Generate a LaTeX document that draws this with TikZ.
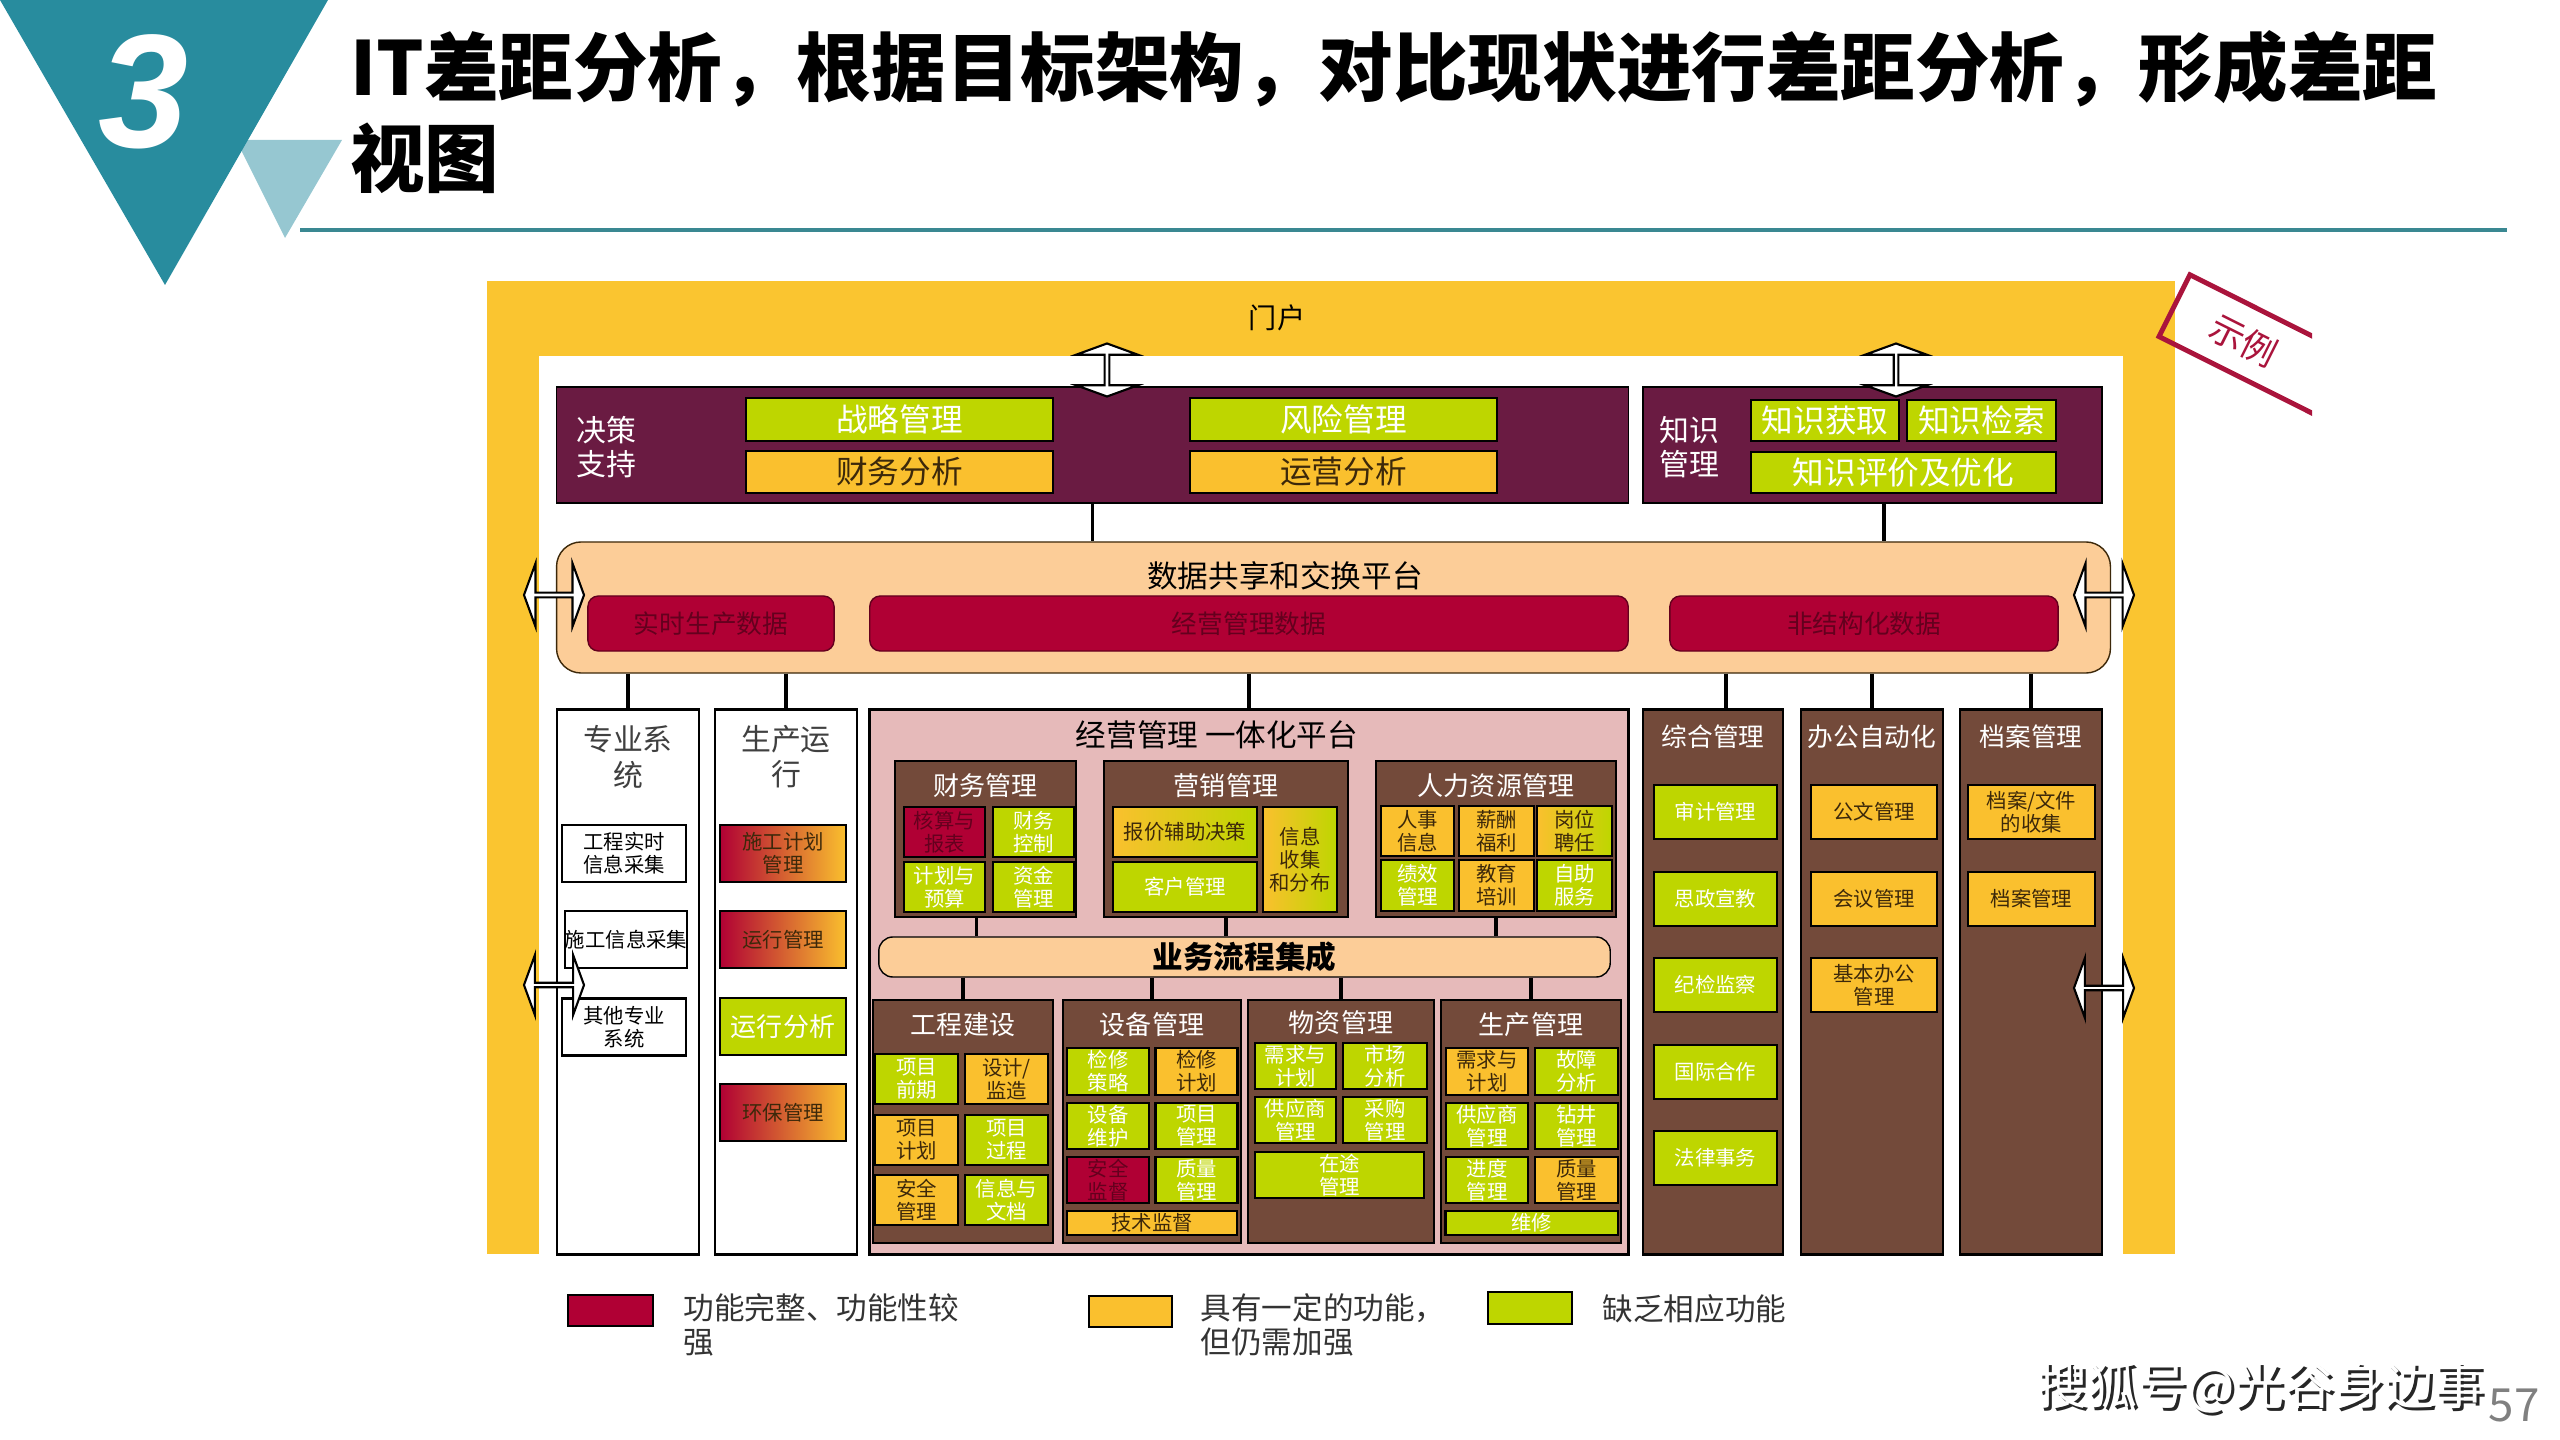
\documentclass[tikz,border=0pt]{standalone}
\usepackage{fontspec}
\setmainfont{Noto Sans CJK SC}
\newfontfamily\digitfont{Liberation Sans}
\usetikzlibrary{positioning,shapes.arrows}

\definecolor{gapTeal}{RGB}{40,140,158}
\definecolor{gapTealLight}{RGB}{150,199,209}
\definecolor{gapTealLine}{RGB}{58,136,146}
\definecolor{gapGold}{RGB}{250,197,48}
\definecolor{gapPurple}{RGB}{106,27,66}
\definecolor{gapGreen}{RGB}{190,214,0}
\definecolor{gapYellow}{RGB}{250,192,46}
\definecolor{gapRed}{RGB}{176,0,52}
\definecolor{gapRedInk}{RGB}{100,0,30}
\definecolor{gapPeach}{RGB}{252,205,152}
\definecolor{gapPink}{RGB}{230,186,186}
\definecolor{gapBrown}{RGB}{115,74,58}
\definecolor{gapInk}{RGB}{60,40,10}
\definecolor{gapStamp}{RGB}{170,20,60}

\tikzset{
  cell/.style={draw=black, line width=0.6pt, inner sep=0pt, outer sep=0pt,
               align=center, font=\fontsize{5.8}{6.6}\selectfont},
  fullbox/.style={cell, fill=gapRed, text=gapRedInk},
  partbox/.style={cell, fill=gapYellow, text=gapInk},
  nobox/.style={cell, fill=gapGreen, text=white},
  mixbox/.style={cell, left color=gapYellow, right color=gapGreen, text=gapInk},
  heatbox/.style={cell, left color=gapRed, right color=gapYellow, text=gapInk},
  plainbox/.style={cell, fill=white, text=black},
  colbox/.style={draw=black, line width=0.8pt, inner sep=0pt,
                 minimum width=1.42cm, minimum height=5.44cm},
  grp/.style={draw=black, line width=0.8pt, fill=gapBrown, inner sep=0pt},
  grptitle/.style={text=white, font=\fontsize{7.4}{8}\selectfont},
  datablk/.style={draw=gapRedInk, fill=gapRed, text=gapRedInk, rounded corners=3pt,
                  minimum height=0.55cm, inner sep=0pt, font=\fontsize{7.3}{8}\selectfont},
  legtext/.style={inner sep=0pt, align=left, text=black!80, font=\fontsize{8.7}{9.6}\selectfont},
  link/.style={line width=1pt},
  dblarrow/.style={double arrow, draw=black, fill=white, line width=0.6pt, inner sep=0pt,
                   double arrow head extend=0.13cm, double arrow tip angle=140}
}

\begin{document}
\begin{tikzpicture}[x=0.01cm, y=-0.01cm]
  \useasboundingbox (0,0) rectangle (2560,1440);

  % header
  \fill[gapTealLight] (236,140) -- (342,140) -- (285,238) -- cycle;
  \fill[gapTeal] (0,0) -- (328,0) -- (165,285) -- cycle;
  \node[text=white, font=\digitfont\fontsize{46}{46}\selectfont\bfseries\itshape] (num) at (143,92) {3};
  \draw[gapTealLine, line width=1.2pt] (300,230) -- (2507,230);
  \node[anchor=west, font=\fontsize{21.2}{25}\selectfont\bfseries] (title1) at (338,69)
        {IT差距分析，根据目标架构，对比现状进行差距分析，形成差距};
  \node[anchor=west, font=\fontsize{21.2}{25}\selectfont\bfseries] (title2) at (338,158) {视图};

  % portal frame
  \fill[gapGold] (487,281) rectangle (2175,1254);
  \fill[white] (539,356) rectangle (2123,1254);
  \node[font=\fontsize{8}{9}\selectfont] (portal) at (1277,318) {门户};

  % decision support and knowledge
  \node[draw=black, fill=gapPurple, minimum width=10.71cm, minimum height=1.16cm, inner sep=0pt] (dec) at (1092.5,445) {};
  \node[anchor=west, inner sep=0pt, text=white, align=left, font=\fontsize{8.5}{9.8}\selectfont] (declabel) at (576,447) {决策\\支持};
  \node[nobox, font=\fontsize{9}{10}\selectfont, minimum width=3.07cm, minimum height=0.43cm] (zlgl) at (899.5,419.5) {战略管理};
  \node[partbox, font=\fontsize{9}{10}\selectfont, minimum width=3.07cm, minimum height=0.42cm] (cwfx) at (899.5,472) {财务分析};
  \node[nobox, font=\fontsize{9}{10}\selectfont, minimum width=3.07cm, minimum height=0.43cm] (fxgl) at (1343.5,419.5) {风险管理};
  \node[partbox, font=\fontsize{9}{10}\selectfont, minimum width=3.07cm, minimum height=0.42cm] (yyfx) at (1343.5,472) {运营分析};

  \node[draw=black, fill=gapPurple, minimum width=4.59cm, minimum height=1.16cm, inner sep=0pt] (kno) at (1872.5,445) {};
  \node[anchor=west, inner sep=0pt, text=white, align=left, font=\fontsize{8.5}{9.8}\selectfont] (knolabel) at (1659,447) {知识\\管理};
  \node[nobox, font=\fontsize{9}{10}\selectfont, minimum width=1.48cm, minimum height=0.41cm] (zshq) at (1825,420.5) {知识获取};
  \node[nobox, font=\fontsize{9}{10}\selectfont, minimum width=1.49cm, minimum height=0.41cm] (zsjs) at (1981.5,420.5) {知识检索};
  \node[nobox, font=\fontsize{9}{10}\selectfont, minimum width=3.05cm, minimum height=0.41cm] (zspj) at (1903.5,472.5) {知识评价及优化};

  \node[dblarrow, rotate=90, minimum height=0.53cm, minimum width=0.62cm] (decarrow) at (1107,370) {};
  \node[dblarrow, rotate=90, minimum height=0.53cm, minimum width=0.62cm] (knoarrow) at (1896,370) {};

  % data sharing platform
  \node[draw=gapInk, fill=gapPeach, rounded corners=7pt, minimum width=15.53cm, minimum height=1.31cm, inner sep=0pt] (plat) at (1333.5,607.5) {};
  \node[font=\fontsize{8.7}{9}\selectfont] (plattitle) at (1285,576) {数据共享和交换平台};
  \node[datablk, minimum width=2.46cm] (rtdata) at (711,623.5) {实时生产数据};
  \node[datablk, minimum width=7.58cm] (opdata) at (1249,623.5) {经营管理数据};
  \node[datablk, minimum width=3.88cm] (unstr) at (1864,623.5) {非结构化数据};
  \node[dblarrow, minimum height=0.6cm, minimum width=0.63cm] (platL) at (554,595) {};
  \node[dblarrow, minimum height=0.6cm, minimum width=0.63cm] (platR) at (2104,595) {};

  % columns
  \node[colbox, fill=white] (zy) at (628,982) {};
  \node[align=center, text=black!75, font=\fontsize{8.5}{10}\selectfont] (zytitle) at (628,757) {专业系\\统};
  \node[plainbox, minimum width=1.24cm, minimum height=0.57cm] (gcss) at (624,853.5) {工程实时\\信息采集};
  \node[plainbox, minimum width=1.22cm, minimum height=0.57cm] (sgxx) at (626,939.5) {施工信息采集};
  \node[plainbox, minimum width=1.24cm, minimum height=0.57cm] (qtzy) at (624,1027) {其他专业\\系统};

  \node[colbox, fill=white] (sc) at (786,982) {};
  \node[align=center, text=black!75, font=\fontsize{8.5}{10}\selectfont] (sctitle) at (786,757) {生产运\\行};
  \node[heatbox, minimum width=1.26cm, minimum height=0.57cm] (sgjh) at (783,853.5) {施工计划\\管理};
  \node[heatbox, minimum width=1.26cm, minimum height=0.57cm] (yxgl) at (783,939.5) {运行管理};
  \node[nobox, font=\fontsize{7.4}{8}\selectfont, minimum width=1.26cm, minimum height=0.57cm] (yxfx) at (783,1026.5) {运行分析};
  \node[heatbox, minimum width=1.26cm, minimum height=0.57cm] (hbgl) at (783,1112.5) {环保管理};

  % integrated operation platform
  \node[draw=black, line width=0.8pt, fill=gapPink, minimum width=7.58cm, minimum height=5.44cm, inner sep=0pt] (jy) at (1249,982) {};
  \node[font=\fontsize{8.7}{9}\selectfont] (jytitle) at (1217,735) {经营管理 一体化平台};

  \node[grp, minimum width=1.81cm, minimum height=1.56cm] (cw) at (985.5,839) {};
  \node[grptitle] (cwtitle) at (985.5,786) {财务管理};
  \node[fullbox, minimum width=0.81cm, minimum height=0.5cm] (hsbb) at (944.5,832) {核算与\\报表};
  \node[nobox, minimum width=0.81cm, minimum height=0.5cm] (cwkz) at (1033.5,832) {财务\\控制};
  \node[nobox, minimum width=0.81cm, minimum height=0.5cm] (jhys) at (944.5,887) {计划与\\预算};
  \node[nobox, minimum width=0.81cm, minimum height=0.5cm] (zjgl) at (1033.5,887) {资金\\管理};

  \node[grp, minimum width=2.44cm, minimum height=1.56cm] (yx) at (1226,839) {};
  \node[grptitle] (yxtitle) at (1226,786) {营销管理};
  \node[mixbox, minimum width=1.44cm, minimum height=0.5cm] (bjfz) at (1185,832) {报价辅助决策};
  \node[nobox, minimum width=1.44cm, minimum height=0.5cm] (khgl) at (1185,887) {客户管理};
  \node[mixbox, minimum width=0.74cm, minimum height=1.05cm] (xxsj) at (1300,859.5) {信息\\收集\\和分布};

  \node[grp, minimum width=2.4cm, minimum height=1.56cm] (rl) at (1496,839) {};
  \node[grptitle] (rltitle) at (1496,786) {人力资源管理};
  \node[partbox, minimum width=0.73cm, minimum height=0.5cm] (rsxx) at (1417.5,831) {人事\\信息};
  \node[partbox, minimum width=0.75cm, minimum height=0.5cm] (xcfl) at (1496.5,831) {薪酬\\福利};
  \node[mixbox, minimum width=0.75cm, minimum height=0.5cm] (gwpr) at (1574.5,831) {岗位\\聘任};
  \node[nobox, minimum width=0.73cm, minimum height=0.51cm] (jxgl) at (1417.5,885.5) {绩效\\管理};
  \node[partbox, minimum width=0.75cm, minimum height=0.51cm] (jypx) at (1496.5,885.5) {教育\\培训};
  \node[nobox, minimum width=0.75cm, minimum height=0.51cm] (zzfw) at (1574.5,885.5) {自助\\服务};

  \node[draw=black, fill=gapPeach, rounded corners=4pt, minimum width=7.31cm, minimum height=0.4cm, inner sep=0pt,
        font=\fontsize{8.7}{9}\selectfont\bfseries] (lc) at (1244.5,957) {业务流程集成};

  \node[grp, minimum width=1.8cm, minimum height=2.43cm] (gc) at (963,1121.5) {};
  \node[grptitle] (gctitle) at (963,1025) {工程建设};
  \node[nobox, minimum width=0.83cm, minimum height=0.5cm] (xmqq) at (916.5,1079) {项目\\前期};
  \node[partbox, minimum width=0.83cm, minimum height=0.5cm] (sjjz) at (1006.5,1079) {设计/\\监造};
  \node[partbox, minimum width=0.83cm, minimum height=0.5cm] (xmjh) at (916.5,1140) {项目\\计划};
  \node[nobox, minimum width=0.83cm, minimum height=0.5cm] (xmgc) at (1006.5,1140) {项目\\过程};
  \node[partbox, minimum width=0.83cm, minimum height=0.5cm] (aqgl) at (916.5,1200) {安全\\管理};
  \node[nobox, minimum width=0.83cm, minimum height=0.5cm] (xxwd) at (1006.5,1200) {信息与\\文档};

  \node[grp, minimum width=1.78cm, minimum height=2.43cm] (sb) at (1152,1121.5) {};
  \node[grptitle] (sbtitle) at (1152,1025) {设备管理};
  \node[nobox, minimum width=0.82cm, minimum height=0.47cm] (jxcl) at (1108,1071.5) {检修\\策略};
  \node[partbox, minimum width=0.82cm, minimum height=0.47cm] (jxjh) at (1196.5,1071.5) {检修\\计划};
  \node[nobox, minimum width=0.82cm, minimum height=0.46cm] (sbwh) at (1108,1126) {设备\\维护};
  \node[nobox, minimum width=0.82cm, minimum height=0.46cm] (sbxm) at (1196.5,1126) {项目\\管理};
  \node[fullbox, minimum width=0.82cm, minimum height=0.46cm] (aqjd) at (1108,1180) {安全\\监督};
  \node[nobox, minimum width=0.82cm, minimum height=0.46cm] (sbzl) at (1196.5,1180) {质量\\管理};
  \node[partbox, minimum width=1.7cm, minimum height=0.24cm] (jsjd) at (1152,1223) {技术监督};

  \node[grp, minimum width=1.86cm, minimum height=2.43cm] (wz) at (1341,1121.5) {};
  \node[grptitle] (wztitle) at (1341,1023) {物资管理};
  \node[nobox, minimum width=0.81cm, minimum height=0.46cm] (wzxq) at (1295.5,1066) {需求与\\计划};
  \node[nobox, minimum width=0.84cm, minimum height=0.46cm] (scfx) at (1385,1066) {市场\\分析};
  \node[nobox, minimum width=0.81cm, minimum height=0.46cm] (wzgy) at (1295.5,1120) {供应商\\管理};
  \node[nobox, minimum width=0.84cm, minimum height=0.46cm] (cggl) at (1385,1120) {采购\\管理};
  \node[nobox, minimum width=1.69cm, minimum height=0.46cm] (ztgl) at (1339.5,1175) {在途\\管理};

  \node[grp, minimum width=1.8cm, minimum height=2.43cm] (scg) at (1531,1121.5) {};
  \node[grptitle] (scgtitle) at (1531,1025) {生产管理};
  \node[partbox, minimum width=0.82cm, minimum height=0.47cm] (scxq) at (1487,1071.5) {需求与\\计划};
  \node[nobox, minimum width=0.83cm, minimum height=0.47cm] (gzfx) at (1576.5,1071.5) {故障\\分析};
  \node[nobox, minimum width=0.82cm, minimum height=0.46cm] (scgy) at (1487,1126) {供应商\\管理};
  \node[nobox, minimum width=0.83cm, minimum height=0.46cm] (zjgl2) at (1576.5,1126) {钻井\\管理};
  \node[nobox, minimum width=0.82cm, minimum height=0.46cm] (jdgl) at (1487,1180) {进度\\管理};
  \node[partbox, minimum width=0.83cm, minimum height=0.46cm] (sczl) at (1576.5,1180) {质量\\管理};
  \node[nobox, minimum width=1.72cm, minimum height=0.24cm] (wxgl) at (1531.5,1223) {维修};

  % right columns
  \node[colbox, fill=gapBrown, minimum width=1.4cm] (zh) at (1713,982) {};
  \node[grptitle, font=\fontsize{7.3}{8}\selectfont] (zhtitle) at (1713,737) {综合管理};
  \node[nobox, minimum width=1.23cm, minimum height=0.54cm] (sjgl) at (1715.5,812) {审计管理};
  \node[nobox, minimum width=1.23cm, minimum height=0.54cm] (szxj) at (1715.5,899) {思政宣教};
  \node[nobox, minimum width=1.23cm, minimum height=0.54cm] (jjjc) at (1715.5,985) {纪检监察};
  \node[nobox, minimum width=1.23cm, minimum height=0.54cm] (gjhz) at (1715.5,1072) {国际合作};
  \node[nobox, minimum width=1.23cm, minimum height=0.54cm] (flsw) at (1715.5,1158) {法律事务};

  \node[colbox, fill=gapBrown] (bg) at (1872,982) {};
  \node[grptitle, font=\fontsize{7.3}{8}\selectfont] (bgtitle) at (1872,737) {办公自动化};
  \node[partbox, minimum width=1.26cm, minimum height=0.54cm] (gwgl) at (1874,812) {公文管理};
  \node[partbox, minimum width=1.26cm, minimum height=0.54cm] (hygl) at (1874,899) {会议管理};
  \node[partbox, minimum width=1.26cm, minimum height=0.54cm] (jbbg) at (1874,985) {基本办公\\管理};

  \node[colbox, fill=gapBrown] (da) at (2031,982) {};
  \node[grptitle, font=\fontsize{7.3}{8}\selectfont] (datitle) at (2031,737) {档案管理};
  \node[partbox, minimum width=1.27cm, minimum height=0.54cm] (dasj) at (2031.5,812) {档案/文件\\的收集};
  \node[partbox, minimum width=1.27cm, minimum height=0.54cm] (dagl) at (2031.5,899) {档案管理};

  \node[dblarrow, minimum height=0.6cm, minimum width=0.6cm] (midL) at (554,985) {};
  \node[dblarrow, minimum height=0.6cm, minimum width=0.6cm] (midR) at (2104,988) {};

  % connectors
  \draw[link] (dec.south) -- (dec.south |- plat.north);
  \draw[link] ([xshift=0.115cm]kno.south) -- ([xshift=0.115cm]kno.south |- plat.north);
  \foreach \c in {zy,sc,jy,bg,da}
    \draw[link] (\c.north |- plat.south) -- (\c.north);
  \draw[link] ([xshift=0.13cm]zh.north |- plat.south) -- ([xshift=0.13cm]zh.north);
  \draw[link] ([xshift=-0.09cm]cw.south) -- ([xshift=-0.09cm]cw.south |- lc.north);
  \foreach \g in {yx,rl}
    \draw[link] (\g.south) -- (\g.south |- lc.north);
  \foreach \g in {gc,sb,wz,scg}
    \draw[link] (\g.north |- lc.south) -- (\g.north);

  % sample stamp
  \begin{scope}
    \clip (2140,250) rectangle (2312,430);
    \node[draw=gapStamp, line width=1.4pt, rotate=-26.6, minimum width=1.8cm, minimum height=0.69cm,
          inner sep=0pt, text=gapStamp, font=\fontsize{10}{11}\selectfont] (stamp) at (2255,346) {\hspace*{-0.25cm}示例};
  \end{scope}

  % legend
  \node[draw=black, fill=gapRed, minimum width=0.85cm, minimum height=0.31cm, inner sep=0pt] (legfull) at (610.5,1310.5) {};
  \node[legtext, anchor=north west] (legfulltxt) at (683,1293) {功能完整、功能性较\\强};
  \node[draw=black, fill=gapYellow, minimum width=0.83cm, minimum height=0.31cm, inner sep=0pt] (legpart) at (1130.5,1311.5) {};
  \node[legtext, anchor=north west] (legparttxt) at (1200,1293) {具有一定的功能，\\但仍需加强};
  \node[draw=black, fill=gapGreen, minimum width=0.84cm, minimum height=0.32cm, inner sep=0pt] (legno) at (1530,1308) {};
  \node[legtext, anchor=west] (legnotxt) at (1602,1309) {缺乏相应功能};

  % watermark
  \node[text=black!85, font=\fontsize{14.2}{15}\selectfont] (wmshade) at (2264,1391) {搜狐号@光谷身边事};
  \node[text=white, font=\fontsize{14.2}{15}\selectfont] (wm) at (2261,1388) {搜狐号@光谷身边事};
  \node[text=black!50, font=\fontsize{13}{14}\selectfont] (page) at (2514,1405) {57};
\end{tikzpicture}
\end{document}
